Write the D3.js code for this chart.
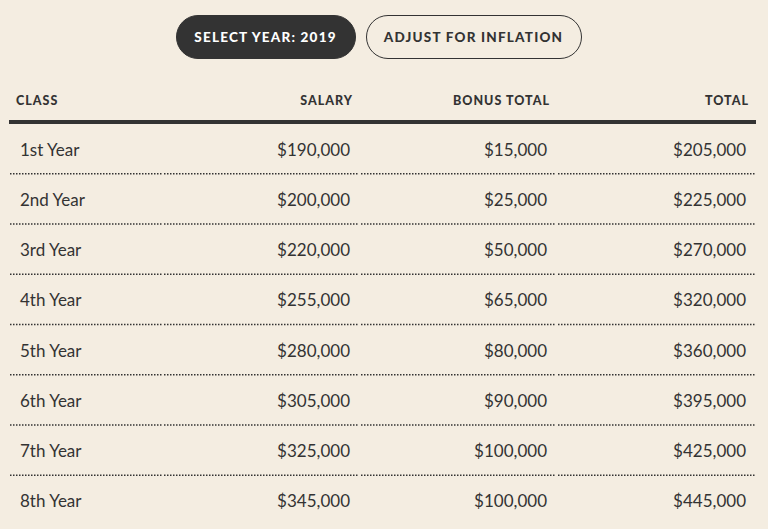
<!DOCTYPE html>
<html><head><meta charset="utf-8">
<script src="https://cdn.jsdelivr.net/npm/d3@7"></script>
<style>body{margin:0;background:#f4ede1;}svg{display:block;}</style>
</head><body><svg id="c" width="768" height="529"></svg>
<script>
const columns = ["CLASS","SALARY","BONUS TOTAL","TOTAL"];
const classes = ["1st Year","2nd Year","3rd Year","4th Year","5th Year","6th Year","7th Year","8th Year"];
const salary = [190000,200000,220000,255000,280000,305000,325000,345000];
const bonus = [15000,25000,50000,65000,80000,90000,100000,100000];
const total = [205000,225000,270000,320000,360000,395000,425000,445000];
const buttons = ["SELECT YEAR: 2019","ADJUST FOR INFLATION"];

const svg = d3.select("#c");
const fmt = v => "$" + d3.format(",")(v);
const ink = "#333";

// buttons
const btn = [{x:176,w:179,fill:ink,col:"#fff"},{x:366,w:215,fill:"none",col:ink}];
buttons.forEach((t,i)=>{
  const b=btn[i];
  svg.append("rect").attr("x",b.x+0.5).attr("y",15.5).attr("width",b.w).attr("height",43).attr("rx",21.5)
    .attr("fill",b.fill).attr("stroke",ink).attr("stroke-width",1);
  svg.append("text").attr("x",b.x+b.w/2).attr("y",41.5).attr("text-anchor","middle")
    .attr("font-family","Lato").attr("font-weight",900).attr("font-size",13.5).attr("letter-spacing",1.2)
    .attr("fill",b.col).text(t);
});

// columns: [left edge, right edge]
const colEdges = [[9,163],[163,360],[360,557],[557,756]];
const anchor = ["start","end","end","end"];
const textX = i => i===0 ? 20 : colEdges[i][1]-10;
const hdrX = i => i===0 ? 16 : colEdges[i][1]-7;

columns.forEach((c,i)=>{
  svg.append("text").attr("x",hdrX(i)).attr("y",105).attr("text-anchor",anchor[i])
    .attr("font-family","Lato").attr("font-weight",900).attr("font-size",12.5).attr("letter-spacing",1)
    .attr("fill",ink).text(c);
});
svg.append("rect").attr("x",9).attr("y",120).attr("width",747).attr("height",4).attr("fill",ink);

const y = d3.scaleBand().domain(classes).range([124,526]);
const rows = classes.map((c,i)=>[c,fmt(salary[i]),fmt(bonus[i]),fmt(total[i])]);
const g = svg.selectAll("g.row").data(rows).join("g").attr("class","row")
  .attr("transform",(d,i)=>`translate(0,${y(classes[i])})`);
g.each(function(d,ri){
  const s=d3.select(this);
  d.forEach((v,i)=>{
    s.append("text").attr("x",textX(i)).attr("y",y.bandwidth()/2+6.5).attr("text-anchor",anchor[i])
      .attr("font-family","Lato").attr("font-size",17).attr("fill",ink).text(v);
    if(ri<classes.length-1){
      s.append("line").attr("x1",colEdges[i][0]+1).attr("x2",colEdges[i][1]-1)
        .attr("y1",y.bandwidth()-0.5).attr("y2",y.bandwidth()-0.5)
        .attr("stroke",ink).attr("stroke-width",1.5).attr("stroke-dasharray","1.5,1.5");
    }
  });
});
</script></body></html>
